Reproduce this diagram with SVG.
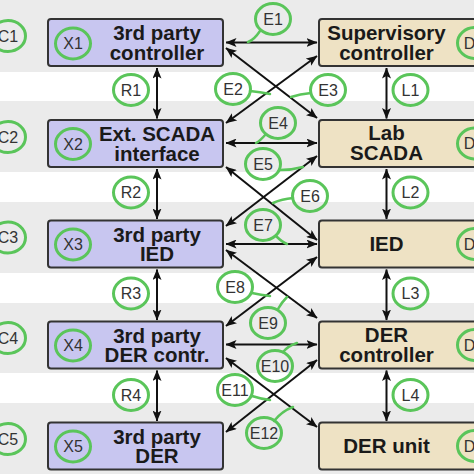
<svg xmlns="http://www.w3.org/2000/svg" width="474" height="474" viewBox="0 0 474 474">
<defs>
<marker id="ah" viewBox="0 0 11 9" refX="10.5" refY="4.5" markerWidth="11" markerHeight="9" markerUnits="userSpaceOnUse" orient="auto-start-reverse">
<path d="M0,0 L11,4.5 L0,9 L2.5,4.5 z" fill="#111"/>
</marker>
<style>
.band{fill:#ebebeb}
.lb{fill:#c8c6f0;stroke:#333;stroke-width:2}
.rb{fill:#eee2c4;stroke:#333;stroke-width:2}
.t{font-family:"Liberation Sans",Arial,sans-serif;font-weight:bold;font-size:20.5px;fill:#1a1a1a;text-anchor:middle}
.c{fill:none;stroke:#5ac55a;stroke-width:3}
.ct{font-family:"Liberation Sans",Arial,sans-serif;font-size:16px;fill:#333;text-anchor:middle}
.ld{fill:none;stroke:#5ac55a;stroke-width:2.5;stroke-linecap:round}
.a{stroke:#111;stroke-width:2;fill:none;marker-start:url(#ah);marker-end:url(#ah)}
</style>
</defs>
<g id="bands">
<rect class="band" x="0" y="0" width="474" height="72"/>
<rect class="band" x="0" y="101" width="474" height="71"/>
<rect class="band" x="0" y="202" width="474" height="71"/>
<rect class="band" x="0" y="303" width="474" height="70"/>
<rect class="band" x="0" y="403" width="474" height="71"/>
</g>
<g id="connectors">
<line class="a" x1="157" y1="68" x2="157" y2="118.5"/>
<line class="a" x1="157" y1="169" x2="157" y2="219"/>
<line class="a" x1="157" y1="269.5" x2="157" y2="320"/>
<line class="a" x1="157" y1="370.5" x2="157" y2="421"/>
<line class="a" x1="386.5" y1="68" x2="386.5" y2="118.5"/>
<line class="a" x1="386.5" y1="169" x2="386.5" y2="219"/>
<line class="a" x1="386.5" y1="269.5" x2="386.5" y2="320"/>
<line class="a" x1="386.5" y1="370.5" x2="386.5" y2="421"/>
<line class="a" x1="226" y1="42.5" x2="317" y2="42.5"/>
<line class="a" x1="226" y1="143" x2="317" y2="143"/>
<line class="a" x1="226" y1="244" x2="317" y2="244"/>
<line class="a" x1="226" y1="344.5" x2="317" y2="344.5"/>
<line class="a" x1="226" y1="48" x2="317" y2="118"/>
<line class="a" x1="317" y1="56" x2="226" y2="123"/>
<line class="a" x1="226" y1="167" x2="317" y2="240"/>
<line class="a" x1="317" y1="156" x2="226" y2="226"/>
<line class="a" x1="226" y1="250" x2="317" y2="318"/>
<line class="a" x1="317" y1="257" x2="226" y2="326"/>
<line class="a" x1="226" y1="358" x2="317" y2="427"/>
<line class="a" x1="317" y1="360" x2="226" y2="432"/>
</g>
<g id="X1"><rect class="lb" x="48" y="19" width="175" height="47" rx="3"/><text class="t" x="157" y="40">3rd party</text><text class="t" x="157" y="60">controller</text><ellipse class="c" cx="73" cy="43.5" rx="17.5" ry="15.5"/><text class="ct" x="73" y="49">X1</text></g>
<g id="X2"><rect class="lb" x="48" y="120" width="175" height="47" rx="3"/><text class="t" x="157" y="140.5">Ext. SCADA</text><text class="t" x="157" y="160.5">interface</text><ellipse class="c" cx="73" cy="144" rx="17.5" ry="15.5"/><text class="ct" x="73" y="149.5">X2</text></g>
<g id="X3"><rect class="lb" x="48" y="220.5" width="175" height="47" rx="3"/><text class="t" x="157" y="241.5">3rd party</text><text class="t" x="157" y="261">IED</text><ellipse class="c" cx="73" cy="244.5" rx="17.5" ry="15.5"/><text class="ct" x="73" y="250">X3</text></g>
<g id="X4"><rect class="lb" x="48" y="321.5" width="175" height="47" rx="3"/><text class="t" x="157" y="342.5">3rd party</text><text class="t" x="157" y="362">DER contr.</text><ellipse class="c" cx="73" cy="345.5" rx="17.5" ry="15.5"/><text class="ct" x="73" y="351">X4</text></g>
<g id="X5"><rect class="lb" x="48" y="422.5" width="175" height="47" rx="3"/><text class="t" x="157" y="443.5">3rd party</text><text class="t" x="157" y="463">DER</text><ellipse class="c" cx="73" cy="446.5" rx="17.5" ry="15.5"/><text class="ct" x="73" y="452">X5</text></g>
<g id="D1"><rect class="rb" x="319" y="19" width="180" height="47" rx="3"/><text class="t" x="386.5" y="39.5">Supervisory</text><text class="t" x="386.5" y="60">controller</text><ellipse class="c" cx="475" cy="43" rx="17.5" ry="15.5"/><text class="ct" x="474" y="48.5">D1</text></g>
<g id="D2"><rect class="rb" x="319" y="120" width="180" height="47" rx="3"/><text class="t" x="386.5" y="139.5">Lab</text><text class="t" x="386.5" y="160">SCADA</text><ellipse class="c" cx="475" cy="143.5" rx="17.5" ry="15.5"/><text class="ct" x="474" y="149">D2</text></g>
<g id="D3"><rect class="rb" x="319" y="220.5" width="180" height="47" rx="3"/><text class="t" x="386.5" y="251">IED</text><ellipse class="c" cx="475" cy="244" rx="17.5" ry="15.5"/><text class="ct" x="474" y="249.5">D3</text></g>
<g id="D4"><rect class="rb" x="319" y="321.5" width="180" height="47" rx="3"/><text class="t" x="386.5" y="341.5">DER</text><text class="t" x="386.5" y="362">controller</text><ellipse class="c" cx="475" cy="345" rx="17.5" ry="15.5"/><text class="ct" x="474" y="350.5">D4</text></g>
<g id="D5"><rect class="rb" x="319" y="422.5" width="180" height="47" rx="3"/><text class="t" x="386.5" y="452.5">DER unit</text><ellipse class="c" cx="475" cy="446" rx="17.5" ry="15.5"/><text class="ct" x="474" y="451.5">D5</text></g>
<g id="C-labels">
<g id="C1"><ellipse class="c" cx="8" cy="36" rx="17.5" ry="15.5"/><text class="ct" x="8" y="41.5">C1</text></g>
<g id="C2"><ellipse class="c" cx="8" cy="137" rx="17.5" ry="15.5"/><text class="ct" x="8" y="142.5">C2</text></g>
<g id="C3"><ellipse class="c" cx="8" cy="237.5" rx="17.5" ry="15.5"/><text class="ct" x="8" y="243">C3</text></g>
<g id="C4"><ellipse class="c" cx="8" cy="338" rx="17.5" ry="15.5"/><text class="ct" x="8" y="343.5">C4</text></g>
<g id="C5"><ellipse class="c" cx="8" cy="439" rx="17.5" ry="15.5"/><text class="ct" x="8" y="444.5">C5</text></g>
</g>
<g id="R-labels">
<g id="R1"><ellipse class="c" cx="131" cy="90" rx="17.5" ry="15.5"/><text class="ct" x="131" y="95.5">R1</text></g>
<g id="R2"><ellipse class="c" cx="131" cy="192.5" rx="17.5" ry="15.5"/><text class="ct" x="131" y="198">R2</text></g>
<g id="R3"><ellipse class="c" cx="131" cy="293.5" rx="17.5" ry="15.5"/><text class="ct" x="131" y="299">R3</text></g>
<g id="R4"><ellipse class="c" cx="131" cy="395" rx="17.5" ry="15.5"/><text class="ct" x="131" y="400.5">R4</text></g>
</g>
<g id="L-labels">
<g id="L1"><ellipse class="c" cx="410.5" cy="90" rx="17.5" ry="15.5"/><text class="ct" x="410.5" y="95.5">L1</text></g>
<g id="L2"><ellipse class="c" cx="410.5" cy="192.5" rx="17.5" ry="15.5"/><text class="ct" x="410.5" y="198">L2</text></g>
<g id="L3"><ellipse class="c" cx="410.5" cy="293.5" rx="17.5" ry="15.5"/><text class="ct" x="410.5" y="299">L3</text></g>
<g id="L4"><ellipse class="c" cx="410.5" cy="395" rx="17.5" ry="15.5"/><text class="ct" x="410.5" y="400.5">L4</text></g>
</g>
<g id="E-labels">
<g id="E1"><path class="ld" d="M260,31 Q254,40 248,42"/><ellipse class="c" cx="273" cy="19" rx="17.5" ry="15.5"/><text class="ct" x="273" y="24.5">E1</text></g>
<g id="E2"><path class="ld" d="M250,91 Q260,92 270,94"/><ellipse class="c" cx="233" cy="89" rx="17.5" ry="15.5"/><text class="ct" x="233" y="94.5">E2</text></g>
<g id="E3"><path class="ld" d="M311,93 Q300,94 291,97"/><ellipse class="c" cx="328" cy="90" rx="17.5" ry="15.5"/><text class="ct" x="328" y="95.5">E3</text></g>
<g id="E4"><path class="ld" d="M266,134 Q260,141 256,143"/><ellipse class="c" cx="278" cy="123" rx="17.5" ry="15.5"/><text class="ct" x="278" y="128.5">E4</text></g>
<g id="E5"><path class="ld" d="M280,170 Q292,170 303,167"/><ellipse class="c" cx="263" cy="164" rx="17.5" ry="15.5"/><text class="ct" x="263" y="169.5">E5</text></g>
<g id="E6"><path class="ld" d="M293,198 Q282,199 273,203"/><ellipse class="c" cx="310" cy="196" rx="17.5" ry="15.5"/><text class="ct" x="310" y="201.5">E6</text></g>
<g id="E7"><path class="ld" d="M276,236 Q282,242 287,244"/><ellipse class="c" cx="263" cy="225" rx="17.5" ry="15.5"/><text class="ct" x="263" y="230.5">E7</text></g>
<g id="E8"><path class="ld" d="M252,293 Q261,295 270,296"/><ellipse class="c" cx="235" cy="287" rx="17.5" ry="15.5"/><text class="ct" x="235" y="292.5">E8</text></g>
<g id="E9"><path class="ld" d="M278,309 Q282,302 287,297"/><ellipse class="c" cx="268" cy="323" rx="17.5" ry="15.5"/><text class="ct" x="268" y="328.5">E9</text></g>
<g id="E10"><path class="ld" d="M283,352 Q288,346 297,343"/><ellipse class="c" cx="275" cy="366" rx="17.5" ry="15.5"/><text class="ct" x="275" y="371.5">E10</text></g>
<g id="E11"><path class="ld" d="M252,396 Q261,399 270,400"/><ellipse class="c" cx="235" cy="390" rx="17.5" ry="15.5"/><text class="ct" x="235" y="395.5">E11</text></g>
<g id="E12"><path class="ld" d="M274,421 Q282,411 293,407"/><ellipse class="c" cx="264" cy="433" rx="17.5" ry="15.5"/><text class="ct" x="264" y="438.5">E12</text></g>
</g>
</svg>
